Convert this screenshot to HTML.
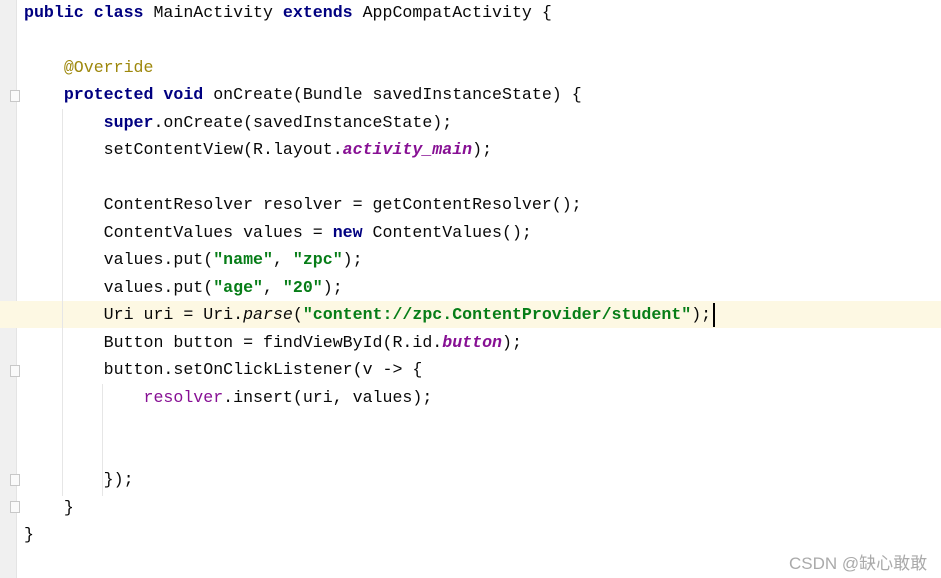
<!DOCTYPE html>
<html><head><meta charset="utf-8"><style>
body{margin:0;width:941px;height:578px;background:#fff;position:relative;overflow:hidden}
.g{position:absolute;left:0;top:0;width:16px;height:578px;background:#f0f0f0;border-right:1px solid #e4e4e4}
.hl{position:absolute;left:0;top:301px;width:941px;height:27px;background:#fdf8e3}
.l{position:absolute;left:24px;height:27px;line-height:27px;font-family:"Liberation Mono",monospace;font-size:16.6px;color:#080808;white-space:pre}
.k{color:#000080;font-weight:bold}
.a{color:#9e880d}
.s{color:#067d17;font-weight:bold}
.p{color:#871094;font-style:italic;font-weight:bold}
.r{color:#871094}
.ig{position:absolute;width:1px;background:#e6e6e6}
.f{position:absolute;left:10px;width:10px;height:12px;border:1px solid #c8c8c8;background:#fafafa;box-sizing:border-box}
.wm{position:absolute;left:789px;top:549px;font-family:"Liberation Sans","Noto Sans CJK SC",sans-serif;font-size:17px;color:#aaa}
.cur{position:absolute;left:713px;top:303px;width:2px;height:24px;background:#000}
</style></head><body>
<div class="g"></div>
<div class="hl"></div>
<div class="ig" style="left:62px;top:109px;height:387px"></div>
<div class="ig" style="left:102px;top:384px;height:112px"></div>
<div class="f" style="top:90px"></div>
<div class="f" style="top:365px"></div>
<div class="f" style="top:474px"></div>
<div class="f" style="top:501px"></div>
<div class="l" style="top:-1px"><span class="k">public class</span> MainActivity <span class="k">extends</span> AppCompatActivity {</div>
<div class="l" style="top:54px">    <span class="a">@Override</span></div>
<div class="l" style="top:81px">    <span class="k">protected void</span> onCreate(Bundle savedInstanceState) {</div>
<div class="l" style="top:109px">        <span class="k">super</span>.onCreate(savedInstanceState);</div>
<div class="l" style="top:136px">        setContentView(R.layout.<span class="p">activity_main</span>);</div>
<div class="l" style="top:191px">        ContentResolver resolver = getContentResolver();</div>
<div class="l" style="top:219px">        ContentValues values = <span class="k">new</span> ContentValues();</div>
<div class="l" style="top:246px">        values.put(<span class="s">"name"</span>, <span class="s">"zpc"</span>);</div>
<div class="l" style="top:274px">        values.put(<span class="s">"age"</span>, <span class="s">"20"</span>);</div>
<div class="l" style="top:301px">        Uri uri = Uri.<i>parse</i>(<span class="s">"content://zpc.ContentProvider/student"</span>);</div>
<div class="cur"></div>
<div class="l" style="top:329px">        Button button = findViewById(R.id.<span class="p">button</span>);</div>
<div class="l" style="top:356px">        button.setOnClickListener(v -&gt; {</div>
<div class="l" style="top:384px">            <span class="r">resolver</span>.insert(uri, values);</div>
<div class="l" style="top:466px">        });</div>
<div class="l" style="top:494px">    }</div>
<div class="l" style="top:521px">}</div>
<div class="wm">CSDN @缺心敢敢</div>
</body></html>
